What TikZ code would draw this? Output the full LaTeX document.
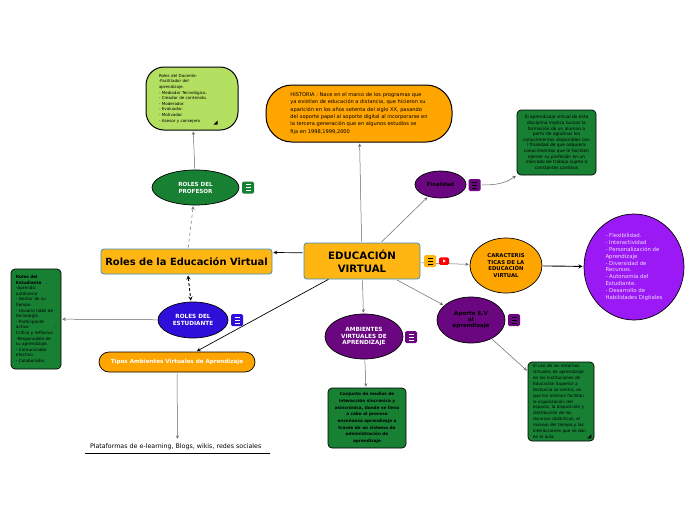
\documentclass[tikz,border=0pt]{standalone}
\usepackage{fontspec}
\setmainfont{DejaVu Sans}
\usetikzlibrary{positioning,shapes.geometric}
\definecolor{mmorange}{HTML}{FFA500}
\definecolor{mmgold}{HTML}{FFB612}
\definecolor{mmblue}{HTML}{3B8FC9}
\definecolor{mmgreen}{HTML}{178033}
\definecolor{mmlime}{HTML}{B3E061}
\definecolor{mmpurple}{HTML}{6A0680}
\definecolor{mmindigo}{HTML}{2E0FD9}
\definecolor{mmviolet}{HTML}{9B19F5}
\newcommand{\fs}[2]{\fontsize{#1}{#2}\selectfont}
\tikzset{
  bubble/.style={ellipse,draw=black,line width=.7pt,inner sep=0pt,align=center},
  card/.style={rectangle,draw=black,line width=.7pt,rounded corners=4pt,inner xsep=0pt,inner ysep=0pt},
  title/.style={rectangle,draw=mmblue,line width=.8pt,fill=mmgold,rounded corners=3pt,inner sep=0pt,align=center,font=\bfseries},
  noteicon/.style={rectangle,rounded corners=1.5pt,minimum size=12pt,inner sep=0pt},
  link/.style={draw=black!60,line width=.5pt},
  strong/.style={draw=black,line width=.7pt},
}
% icon body: three bars on a named square
\newcommand{\bars}[2]{\foreach \dy in {-3,0,3} \draw[#2,line width=.6pt] ([shift={(-3.5,\dy)}]#1.center) -- ++(7,0);}
\begin{document}
\begin{tikzpicture}[x=1pt,y=-1pt,>=stealth,shorten >=1pt,shorten <=1pt]
   \useasboundingbox (0,0) rectangle (696,520);
   % main nodes
   \node[title,minimum width=116pt,minimum height=36pt,font=\bfseries\fs{10.2}{13}] (edu) at (362,261) {EDUCACIÓN\\VIRTUAL};
   \node[card,fill=mmorange,rounded corners=26pt,line width=1pt,minimum width=186pt,minimum height=57pt,align=left,font=\fs{5.1}{7.3}] (hist) at (359,113.5)
     {HISTORIA : Nace en el marco de los programas que\\ya existían de educación a distancia, que hicieron su\\aparición  en los años setenta del siglo XX, pasando\\del soporte papel al soporte digital al incorporarse  en\\la tercera generación  que en algunos estudios  se\\fija  en 1998,1999,2000};
   \node[title,minimum width=171pt,minimum height=25pt,font=\bfseries\fs{9.9}{11}] (roles) at (186.5,261.5) {Roles de la Educación Virtual};
   \node[bubble,fill=mmgreen,text=white,minimum width=87pt,minimum height=35pt,font=\bfseries\fs{5.6}{7}] (prof) at (195.5,187.5) {ROLES DEL\\PROFESOR};
   \node[card,fill=mmlime,rounded corners=18pt,line width=1pt,minimum width=92pt,minimum height=63pt,inner xsep=13pt,text width=66pt,align=left,font=\fs{4.05}{5.6}] (docente) at (192,98.5)
     {Roles del Docente:\\-Facilitador del\\aprendizaje.\\- Mediador Tecnológico.\\- Creador de contenido.\\- Moderador.\\- Evaluador.\\- Motivador.\\- Asesor y consejero};
   \node[bubble,fill=mmindigo,text=white,minimum width=70pt,minimum height=36pt,font=\bfseries\fs{5.7}{6.2}] (estud) at (193,320) {ROLES DEL\\ESTUDIANTE};
   \node[card,fill=mmgreen,minimum width=50pt,minimum height=100pt,inner xsep=5pt,text width=40pt,align=left,font=\fs{4.2}{5.6}] (rolest) at (36,319)
     {\textbf{Roles del}\\\textbf{Estudiante}\quad:\\-Aprendiz\\autónomo\\-  Gestor de su\\tiempo\\- Usuario hábil de\\tecnología\\- Participante\\activo\hfill-\\Crítico y reflexivo\\-Responsable de\\su aprendizaje.\\- Comunicador\\efectivo\\- Colaborador};
   \node[card,fill=mmorange,rounded corners=10pt,text=white,minimum width=156pt,minimum height=20pt,font=\bfseries\fs{5.6}{6}] (tipos) at (177,362) {Tipos Ambientes Virtuales de Aprendizaje};
   \node[inner xsep=5pt,inner ysep=0pt,text width=175pt,minimum height=13pt,align=left,font=\fs{6.3}{7}] (plat) at (177.5,446.5) {Plataformas de e-learning, Blogs, wikis, redes sociales};
   \node[bubble,fill=mmpurple,text=white,minimum width=78pt,minimum height=45pt,font=\bfseries\fs{5.7}{6.8}] (amb) at (364,336.5) {AMBIENTES\\VIRTUALES DE\\APRENDIZAJE};
   \node[card,fill=mmgreen,minimum width=78pt,minimum height=60pt,align=center,font=\bfseries\fs{4.2}{6.7}] (conj) at (367,418)
     {Conjunto de medios de\\interacción sincrónica y\\asincrónica, donde se lleva\\a cabo el proceso\\enseñanza aprendizaje a\\través de un sistema  de\\administración de\\aprendizaje};
   \node[bubble,fill=mmpurple,minimum width=68pt,minimum height=46pt,font=\bfseries\fs{5.6}{6.2}] (aporte) at (471,320) {Aporte E.V\\al\\aprendizaje};
   \node[card,fill=mmgreen,minimum width=66pt,minimum height=79pt,inner xsep=5pt,text width=56pt,align=left,font=\fs{4.2}{5.9}] (uso) at (561,401.5)
     {El uso de los entornos\\virtuales de aprendizaje\\en las Instituciones de\\Educación Superior  a\\Distancia se centra, en\\que los mismos facilitan\\la organización del\\espacio, la disposición y\\distribución de los\\recursos didácticos, el\\manejo del tiempo y las\\interacciones que se dan\\en el aula};
   \node[bubble,fill=mmorange,minimum width=72pt,minimum height=55pt,font=\bfseries\fs{5.3}{6.8}] (caract) at (506,265.5) {CARACTERIS\\TICAS DE LA\\EDUCACIÓN\\VIRTUAL};
   \node[bubble,fill=mmviolet,text=white!85!mmviolet,minimum width=100pt,minimum height=106pt,align=left,font=\fs{5.4}{6.9}] (habil) at (634,267)
     {- Flexibilidad.\\- Interactividad\\- Personalización  de\\Aprendizaje\\- Diversidad de\\Recursos.\\- Autonomía del\\Estudiante.\\-   Desarrollo de\\Habilidades Digitales};
   \node[bubble,fill=mmpurple,minimum width=51pt,minimum height=27pt,font=\bfseries\fs{5.2}{6}] (final) at (440.5,184.5) {Finalidad};
   \node[card,fill=mmgreen,minimum width=79pt,minimum height=65pt,align=center,font=\fs{4.35}{5.6}] (aprend) at (556.5,142.5)
     {El aprendizaje virtual de esta\\disciplina implica buscar la\\formación de un alumno a\\partir de aglutinar los\\conocimientos disponibles con\\l finalidad  de que adquiera\\conocimientos que le faciliten\\ejercer su profesión en un\\mercado de trabajo sujeto a\\constantes cambios};
   % connectors under the icons
   \path[->]
    (edu) edge[link] (hist)
          edge[link] (final)
          edge[link] (caract)
          edge[link] (aporte)
          edge[link] (amb)
          edge[strong,shorten <=0pt] (tipos)
    (edu.172) edge[strong] (roles.6)
    (caract) edge[strong,line width=.9pt] (habil)
    (aporte) edge[link] (uso)
    (amb) edge[link] (conj)
    (prof) edge[link] (docente)
    (estud) edge[link] (rolest)
    (tipos) edge[link] (plat)
    (roles) edge[link,dashed] (prof);
   \draw[<->,strong,line width=.9pt,densely dashed] (roles) -- (estud);
   \draw[draw=black,line width=1pt,shorten >=0pt,shorten <=0pt] (plat.south west) -- (plat.south east);
   % icons
   \node[noteicon,fill=mmgreen] (profnote) at (248,187.5) {};
   \node[noteicon,fill=mmindigo] (estnote) at (237,320) {};
   \node[noteicon,fill=mmpurple] (ambnote) at (411,337) {};
   \node[noteicon,fill=mmpurple] (aportenote) at (514,320) {};
   \node[noteicon,fill=mmpurple] (finalnote) at (474.5,185) {};
   \node[noteicon,fill=mmgold] (edunote) at (430,261) {};
   \node[rectangle,fill=red,rounded corners=1.5pt,minimum width=10pt,minimum height=7.5pt,inner sep=0pt] (video) at (444,261) {};
   \fill[white] ([shift={(-1,-1.6)}]video.center) -- ++(2.8,1.6) -- ++(-2.8,1.6) -- cycle;
   \bars{profnote}{white} \bars{estnote}{white} \bars{ambnote}{white}
   \bars{aportenote}{black} \bars{finalnote}{black} \bars{edunote}{black}
   \path[->] (finalnote.east) edge[link,out=0,in=215] (aprend.south west);
   % corner marks of the long notes
   \fill[black] ([shift={(-21,-10)}]docente.south east) -- ++(0,4) -- ++(-4,0) -- cycle;
   \fill[black] ([shift={(-3,-7)}]uso.south east) -- ++(0,4) -- ++(-4,0) -- cycle;
\end{tikzpicture}
\end{document}
